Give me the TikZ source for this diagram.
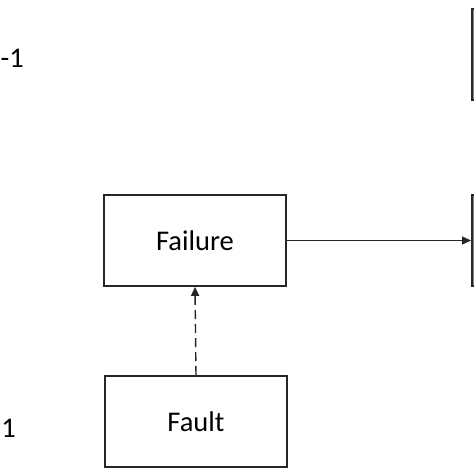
\documentclass[tikz,border=0pt]{standalone}
\usepackage{fontspec}
\setmainfont{Carlito}
\usetikzlibrary{arrows.meta}
\begin{document}
\begin{tikzpicture}[x=1pt,y=1pt,
  box/.style={draw=black!85, line width=1.7pt, minimum width=182pt, minimum height=91pt, inner sep=0pt, font=\fontsize{28.5}{31}\selectfont},
  edgebox/.style={draw=black!85, line width=1.7pt, fill=black!45, minimum width=20pt, minimum height=91pt, inner sep=0pt, anchor=west},
  lbl/.style={font=\fontsize{28.5}{31}\selectfont, inner sep=0pt},
  conn/.style={line width=1.4pt, draw=black!85, -{Triangle[length=9pt,width=8pt]}}
]
\useasboundingbox (0,0) rectangle (474,474);
\clip (0,0) rectangle (474,474);
\fill[white] (0,0) rectangle (474,474);
\node[box] (failure) at (195,233.5) {Failure};
\node[box] (fault) at (196,52.5) {Fault};
\node[edgebox] (rtop) at (471,419.5) {};
\node[edgebox] (rmid) at (471,233.5) {};
\node[lbl, anchor=west] (tm1) at (0.5,416) {-1};
\node[lbl] (t1) at (8.5,45.5) {1};
\draw[conn] (failure.east) -- (rmid.west);
\draw[conn, dash pattern=on 9pt off 5pt] (fault.north) -- (failure.south);
\end{tikzpicture}
\end{document}
